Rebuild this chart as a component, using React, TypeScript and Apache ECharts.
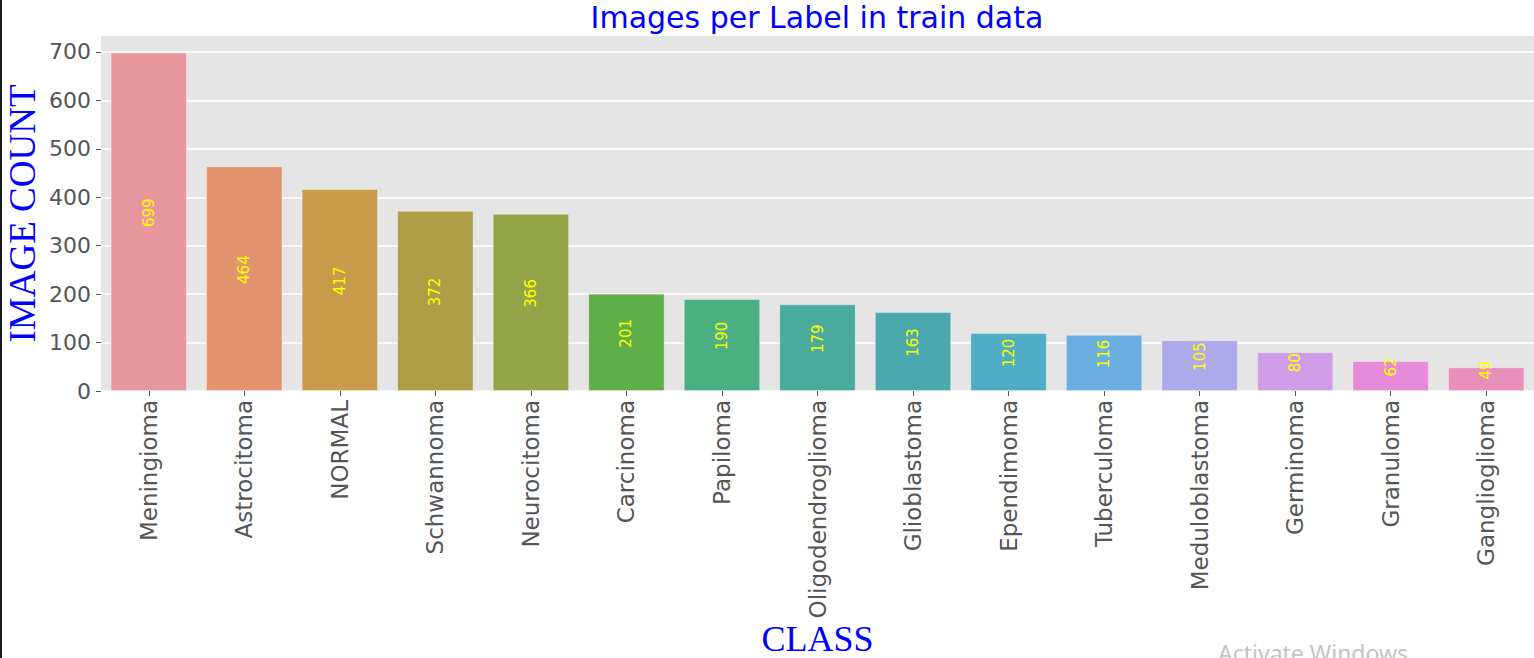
import React, { useEffect, useRef } from "react";
import * as echarts from "echarts";

const categories = [
  "Meningioma",
  "Astrocitoma",
  "NORMAL",
  "Schwannoma",
  "Neurocitoma",
  "Carcinoma",
  "Papiloma",
  "Oligodendroglioma",
  "Glioblastoma",
  "Ependimoma",
  "Tuberculoma",
  "Meduloblastoma",
  "Germinoma",
  "Granuloma",
  "Ganglioglioma",
];
const counts = [699, 464, 417, 372, 366, 201, 190, 179, 163, 120, 116, 105, 80, 62, 49];
const barColors = [
  "#E8979F",
  "#E3946F",
  "#C89A4A",
  "#AD9E47",
  "#93A548",
  "#5FAF48",
  "#4BAF83",
  "#4AAB9C",
  "#4AA8AE",
  "#50ADC5",
  "#6BAEE2",
  "#ADA9EA",
  "#D09BE7",
  "#E68ADA",
  "#E88FBA",
];
const yTicks = [0, 100, 200, 300, 400, 500, 600, 700];

export default function App() {
  const ref = useRef<HTMLDivElement>(null);
  useEffect(() => {
    document.body.style.margin = "0";
    const chart = echarts.init(ref.current!, null, { renderer: "svg" });
    chart.setOption({
      animation: false,
      backgroundColor: "#ffffff",
      title: {
        text: "Images per Label in train data",
        left: 817,
        textAlign: "center",
        top: 2,
        padding: 0,
        textStyle: {
          color: "#0000FF",
          fontSize: 30,
          fontWeight: "normal",
          fontFamily: "DejaVu Sans",
        },
      },
      grid: {
        left: 101,
        right: 0,
        top: 36,
        bottom: 267,
        show: true,
        backgroundColor: "#E5E5E5",
        borderWidth: 0,
        containLabel: false,
        outerBoundsMode: "none",
      },
      xAxis: {
        type: "category",
        data: categories,
        name: "CLASS",
        nameLocation: "middle",
        nameGap: 230,
        nameMoveOverlap: false,
        nameTextStyle: {
          color: "#0000FF",
          fontSize: 36,
          fontFamily: "Liberation Serif",
        },
        axisLine: { show: false },
        axisTick: {
          show: true,
          alignWithLabel: true,
          length: 5,
          lineStyle: { color: "#555555", width: 1 },
        },
        axisLabel: {
          rotate: 90,
          fontSize: 23,
          color: "#555555",
          fontFamily: "DejaVu Sans",
          margin: 9,
          interval: 0,
        },
        splitLine: { show: false },
      },
      yAxis: {
        type: "value",
        min: 0,
        max: 733,
        interval: 100,
        name: "IMAGE COUNT",
        nameLocation: "middle",
        nameGap: 79,
        nameMoveOverlap: false,
        nameTextStyle: {
          color: "#0000FF",
          fontSize: 37,
          fontFamily: "Liberation Serif",
          verticalAlign: "middle",
        },
        axisLine: { show: false },
        axisTick: {
          show: true,
          length: 5,
          customValues: yTicks,
          lineStyle: { color: "#555555", width: 1 },
        },
        axisLabel: {
          fontSize: 22,
          color: "#555555",
          fontFamily: "DejaVu Sans",
          margin: 10,
          customValues: yTicks,
          formatter: (v: number) => (yTicks.includes(v) ? String(v) : ""),
        },
        splitLine: { show: true, lineStyle: { color: "#FFFFFF", width: 1.5 } },
      },
      series: [
        {
          type: "bar",
          barCategoryGap: "20%",
          data: counts.map((v, i) => ({
            value: v,
            itemStyle: { color: barColors[i] },
          })),
          itemStyle: {
            borderColor: "rgba(255,255,255,0.35)",
            borderWidth: 1,
          },
          label: {
            show: true,
            position: "inside",
            rotate: 90,
            offset: [9, 0],
            color: "#FFFF00",
            fontSize: 15,
            fontFamily: "DejaVu Sans",
          },
        },
      ],
      graphic: [
        {
          type: "rect",
          shape: { x: 0, y: 0, width: 2, height: 658 },
          style: { fill: "#1a1a1a" },
        },
        {
          type: "text",
          x: 1218,
          y: 641,
          style: {
            text: "Activate Windows",
            fill: "#C4C4C4",
            fontSize: 23,
            fontFamily: "Noto Sans",
          },
        },
      ],
    });
    return () => chart.dispose();
  }, []);
  return <div ref={ref} style={{ width: 1534, height: 658 }} />;
}
